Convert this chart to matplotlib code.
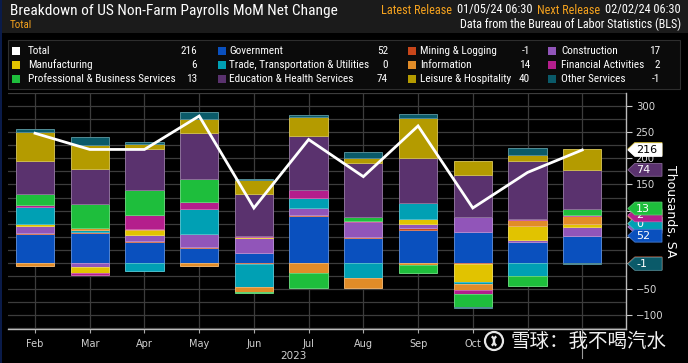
import matplotlib
matplotlib.use('Agg')
import matplotlib.pyplot as plt
import numpy as np
from matplotlib.patches import Polygon, Rectangle, Circle, Arc
from matplotlib.lines import Line2D
import matplotlib.transforms as mtransforms
from matplotlib import font_manager
from matplotlib.font_manager import FontProperties

# pick a narrow font file if one is installed
cands = []
for f in font_manager.fontManager.ttflist:
    fn = f.fname.lower()
    if ('narrow' in fn or 'condensed' in fn) and 'bold' not in fn and 'italic' not in fn \
            and 'oblique' not in fn and 'light' not in fn and 'semi' not in fn and 'extra' not in fn:
        cands.append(f.fname)
pref = None
for key in ['liberationsansnarrow-regular', 'robotocondensed-regular', 'opensans_condensed',
            'dejavusanscondensed.ttf', 'condensed', 'narrow']:
    for c in cands:
        if key in c.lower().replace(' ', ''):
            pref = c
            break
    if pref:
        break
if pref:
    NFP = lambda: FontProperties(fname=pref)
else:
    NFP = lambda: FontProperties(family='Roboto')
plt.rcParams['font.family'] = ['DejaVu Sans']

# ---------------- data ----------------
months = ['Feb', 'Mar', 'Apr', 'May', 'Jun', 'Jul', 'Aug', 'Sep', 'Oct', 'Nov', 'Dec']
year_label = '2023'
total = [248, 217, 217, 281, 105, 236, 165, 262, 105, 173, 216]
government = [55, 57, 39, 29, 19, 90, 48, 63, 60, 39, 52]
mining = [2, 2, 3, 2, -2, 2, 2, 3, -2, -1, -1]
construction = [14, -7, 11, 24, 28, 13, 28, 8, 27, 5, 17]
manufacturing = [3, -12, 9, 1, 3, 0, 0, 10, -35, 27, 6]
trade = [33, 3, -15, 47, -45, 19, -28, 30, -3, -24, 0]
information = [-6, 4, 2, -6, -8, -20, -21, -4, -11, 11, 14]
financial = [4, -4, 27, 13, 2, 16, 2, 0, -8, 2, 2]
professional = [20, 46, 49, 45, -3, -28, 8, -15, -25, -20, 13]
education = [63, 68, 77, 88, 79, 103, 104, 87, 82, 110, 74]
leisure = [57, 46, 11, 27, 27, 36, 8, 76, 25, 13, 40]
other = [5, 15, 4, 12, 3, 4, 12, 7, -3, 12, -1]
yticks = [-100, -50, 0, 50, 100, 150, 200, 250, 300]

series_names = ['Government', 'Mining & Logging', 'Construction', 'Manufacturing',
                'Trade, Transportation & Utilities', 'Information', 'Financial Activities',
                'Professional & Business Services', 'Education & Health Services',
                'Leisure & Hospitality', 'Other Services']
series_vals = [government, mining, construction, manufacturing, trade, information,
               financial, professional, education, leisure, other]
series_colors = ['#0A50BE', '#C8461A', '#9155B9', '#E1C300', '#00A0B4', '#E18C28',
                 '#B41E8C', '#1EBE3C', '#5A326E', '#B49B00', '#0A5A69']

W, H = 688, 363
fig = plt.figure(figsize=(W / 100, H / 100), dpi=100, facecolor='#000000')
renderer = fig.canvas.get_renderer()


def fx(x):
    return x / W


def fy(y):
    return 1 - y / H


def lighten(c, a=0.35):
    r, g, b = matplotlib.colors.to_rgb(c)
    return (r + (1 - r) * a, g + (1 - g) * a, b + (1 - b) * a)


def width_at(s, size):
    t = fig.text(0, 0, s, fontproperties=NFP(), fontsize=size)
    w = t.get_window_extent(renderer).width
    t.remove()
    return w


def fit_size(s, target, maxsize):
    w = width_at(s, 10)
    return min(maxsize, 10 * target / w)


def ntext(x, y, s, size, **kw):
    return fig.text(fx(x), fy(y), s, fontproperties=NFP(), fontsize=size, **kw)


# ---------------- header / legend panels ----------------
fig.patches.append(Rectangle((0, fy(33)), 1, 33 / H, transform=fig.transFigure,
                             facecolor='#1b1b1b', edgecolor='none', zorder=0))
fig.patches.append(Rectangle((fx(8), fy(89)), fx(672), 49 / H, transform=fig.transFigure,
                             facecolor='#0b0b0b', edgecolor='#2e2e2e', lw=0.8, zorder=0))
fig.patches.append(Rectangle((0, 0), fx(2), 1, transform=fig.transFigure,
                             facecolor='#0a1b4a', edgecolor='none', zorder=1))

ORANGE = '#F5A21E'
title = 'Breakdown of US Non-Farm Payrolls MoM Net Change'
ntext(10, 11, title, fit_size(title, 328, 12.5), color='white', va='center', ha='left')
ntext(10, 25, 'Total', fit_size('Total', 22, 9.5), color=ORANGE, va='center', ha='left')

pieces = [('Latest Release', ORANGE), ('01/05/24 06:30', 'white'),
          ('Next Release', ORANGE), ('02/02/24 06:30', 'white')]
gap = 5
tot_w10 = sum(width_at(p[0], 10) for p in pieces)
hsize = min(10, 10 * (295 - gap * 3) / tot_w10)
xr = 681
for txt, col in reversed(pieces):
    t = ntext(xr, 10, txt, hsize, color=col, va='center', ha='right')
    xr = t.get_window_extent(renderer).x0 - gap
src = 'Data from the Bureau of Labor Statistics (BLS)'
ntext(681, 24, src, fit_size(src, 220, 10), color='white', va='center', ha='right')

# legend entries
leg_names = ['Total'] + series_names
leg_colors = ['#FFFFFF'] + series_colors
leg_vals = [total[-1]] + [s[-1] for s in series_vals]
col_sq = [12, 218, 408, 548]
col_txt = [28, 229, 420, 561]
col_val = [197, 388, 530, 660]
row_y = [51, 65, 79]
lsize = fit_size('Professional & Business Services', 147, 9.5)
for i, (nm, c, v) in enumerate(zip(leg_names, leg_colors, leg_vals)):
    r, cidx = divmod(i, 4)
    y = row_y[r]
    fig.patches.append(Rectangle((fx(col_sq[cidx]), fy(y + 4)), fx(8), 8 / H,
                                 transform=fig.transFigure, facecolor=c, edgecolor='none'))
    ntext(col_txt[cidx], y, nm, lsize, color='white', va='center', ha='left')
    ntext(col_val[cidx], y, f'{v:d}', lsize, color='white', va='center', ha='right')

# ---------------- chart ----------------
ax = fig.add_axes([fx(8), fy(329), fx(618), (329 - 93) / H])
ax.set_facecolor('#000000')
x = np.arange(len(months))
pos_base = np.zeros(len(months))
neg_base = np.zeros(len(months))
ends_last = []
for name, vals, col in zip(series_names, series_vals, series_colors):
    v = np.array(vals, dtype=float)
    bottoms = np.where(v >= 0, pos_base, neg_base)
    ax.bar(x, v, bottom=bottoms, width=0.7, color=col, edgecolor=lighten(col, 0.3),
           linewidth=0.7, zorder=3)
    pos_base = np.where(v >= 0, pos_base + v, pos_base)
    neg_base = np.where(v < 0, neg_base + v, neg_base)
    ends_last.append(pos_base[-1] if v[-1] >= 0 else neg_base[-1])

ax.plot(x, total, color='white', lw=2.0, zorder=5, solid_joinstyle='miter')

ax.set_xlim(-0.494, 10.80)
ax.set_ylim(-126.5, 321)
ax.set_yticks(yticks)
ax.set_yticks(np.arange(-125, 326, 25), minor=True)
ax.yaxis.tick_right()
ax.grid(axis='y', which='both', color='#3c3c3c', lw=0.9, zorder=0)
ax.grid(axis='x', which='major', color='#3c3c3c', lw=0.9, zorder=0)
ax.set_xticks(x)

# watermark region (figure pixels); month labels underneath it are covered in the reference
WM_X0, WM_X1 = 483, 669
xpix = ax.transData.transform(np.column_stack([x, np.zeros_like(x)]))[:, 0]
ax.set_xticklabels([m if not (WM_X0 <= px <= WM_X1) else '' for m, px in zip(months, xpix)])
ax.tick_params(axis='x', length=3, color='#aaaaaa', labelcolor='#d0d0d0', labelsize=7, pad=4)
ax.tick_params(axis='y', which='major', length=4, color='#cccccc', labelcolor='#d8d8d8',
               labelsize=7.3, pad=3, right=True, left=False)
ax.tick_params(axis='y', which='minor', length=0)
for s in ['left', 'top']:
    ax.spines[s].set_visible(False)
for s in ['right', 'bottom']:
    ax.spines[s].set_color('#bbbbbb')
    ax.spines[s].set_linewidth(1.0)

fig.text(fx(293), fy(356), year_label, color='#d0d0d0', fontsize=7.5, ha='center', va='center')

fig.text(fx(671), fy(211), 'Thousands, SA', color='white', fontsize=9, rotation=270,
         ha='center', va='center')

# value tags on the right axis (latest values)
blend = mtransforms.blended_transform_factory(ax.transAxes, ax.transData)
x0 = 1.003
x1 = x0 + 7 / 618
x2 = (662 - 8) / 618
hh = 12.3
tag_order = ['Leisure & Hospitality', 'Information', 'Manufacturing', 'Construction',
             'Trade, Transportation & Utilities', 'Mining & Logging', 'Financial Activities',
             'Government', 'Professional & Business Services', 'Education & Health Services',
             'Other Services', 'Total']
tag_info = {n: (e, c, v[-1]) for n, e, c, v in zip(series_names, ends_last, series_colors, series_vals)}
tag_info['Total'] = (total[-1], '#FFFFFF', total[-1])
for z, n in enumerate(tag_order):
    yv, col, val = tag_info[n]
    poly = Polygon([(x0, yv), (x1, yv + hh), (x2, yv + hh), (x2, yv - hh), (x1, yv - hh)],
                   closed=True, transform=blend, clip_on=False, facecolor=col,
                   edgecolor=lighten(col, 0.25), lw=0.6, zorder=20 + 2 * z)
    ax.add_patch(poly)
    ax.text(x1 + 0.002, yv, f'{val:d}', transform=blend, clip_on=False,
            color='black' if n == 'Total' else 'white', fontsize=8, ha='left', va='center',
            zorder=21 + 2 * z)

# y tick labels that sit fully under a value tag are not visible in the reference
tag_ys = [tag_info[n][0] for n in tag_order]
for tv, lab in zip(yticks, ax.get_yticklabels()):
    if any(abs(tv - ty) < 0.6 * hh for ty in tag_ys):
        lab.set_visible(False)

# watermark
fig.patches.append(Rectangle((fx(WM_X0), fy(354)), fx(WM_X1 - WM_X0), 23 / H,
                             transform=fig.transFigure, facecolor='#000000', edgecolor='none',
                             zorder=5))
# long year-end tick under the last month, visible through the watermark
xd = xpix[-1]
fig.lines.append(Line2D([fx(xd), fx(xd)], [fy(330), fy(358)], transform=fig.transFigure,
                        color='#9a9a9a', lw=0.8, zorder=5.5))
fig.patches.append(Circle((494, H - 341), 9, transform=None, facecolor='none',
                          edgecolor='#e8e8e8', lw=1.6, zorder=6))
fig.patches.append(Arc((490, H - 341), 8, 10, theta1=-70, theta2=70, transform=None,
                       edgecolor='#e8e8e8', lw=1.6, zorder=6))
fig.patches.append(Arc((498, H - 341), 8, 10, theta1=110, theta2=250, transform=None,
                       edgecolor='#e8e8e8', lw=1.6, zorder=6))
fig.text(fx(511), fy(341), '雪球：我不喝汽水', color='#f0f0f0', fontsize=14, ha='left', va='center',
         family=['Noto Sans CJK SC', 'DejaVu Sans'], zorder=7)

fig.savefig('out.png', dpi=100, facecolor=fig.get_facecolor())
